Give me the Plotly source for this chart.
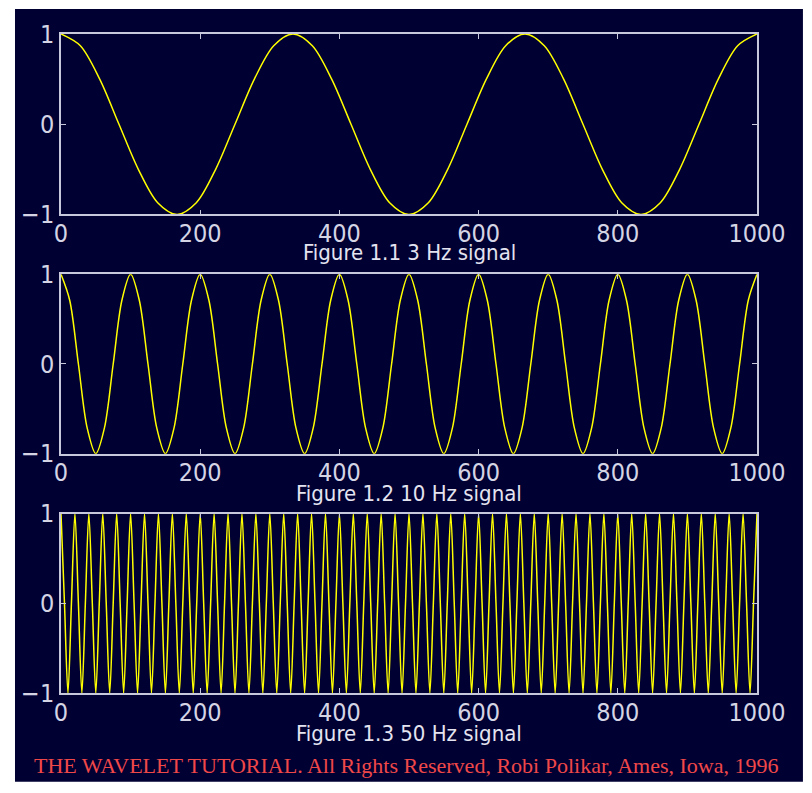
import plotly.graph_objects as go
from plotly.subplots import make_subplots

# key points
x_3hz = [0, 27.8, 55.6, 83.3, 111.1, 138.9, 166.7, 194.4, 222.2, 250, 277.8, 305.6,
         333.3, 361.1, 388.9, 416.7, 444.4, 472.2, 500, 527.8, 555.6, 583.3, 611.1, 638.9,
         666.7, 694.4, 722.2, 750, 777.8, 805.6, 833.3, 861.1, 888.9, 916.7, 944.4, 972.2,
         1000]
y_3hz = [1, 0.87, 0.5, 0, -0.5, -0.87, -1, -0.87, -0.5, 0, 0.5, 0.87,
         1, 0.87, 0.5, 0, -0.5, -0.87, -1, -0.87, -0.5, 0, 0.5, 0.87,
         1, 0.87, 0.5, 0, -0.5, -0.87, -1, -0.87, -0.5, 0, 0.5, 0.87,
         1]

x_10hz = [i * 12.5 for i in range(81)]
y_10hz = [1, 0.71, 0, -0.71, -1, -0.71, 0, 0.71, 1, 0.71, 0, -0.71, -1, -0.71, 0, 0.71,
          1, 0.71, 0, -0.71, -1, -0.71, 0, 0.71, 1, 0.71, 0, -0.71, -1, -0.71, 0, 0.71,
          1, 0.71, 0, -0.71, -1, -0.71, 0, 0.71, 1, 0.71, 0, -0.71, -1, -0.71, 0, 0.71,
          1, 0.71, 0, -0.71, -1, -0.71, 0, 0.71, 1, 0.71, 0, -0.71, -1, -0.71, 0, 0.71,
          1, 0.71, 0, -0.71, -1, -0.71, 0, 0.71, 1, 0.71, 0, -0.71, -1, -0.71, 0, 0.71,
          1]

# 50 Hz: peaks, zero crossings and troughs
x_50hz = list(range(0, 1001, 5))
y_50hz = [1, 0, -1, 0, 1, 0, -1, 0, 1, 0, -1, 0, 1, 0, -1, 0, 1, 0, -1, 0,
          1, 0, -1, 0, 1, 0, -1, 0, 1, 0, -1, 0, 1, 0, -1, 0, 1, 0, -1, 0,
          1, 0, -1, 0, 1, 0, -1, 0, 1, 0, -1, 0, 1, 0, -1, 0, 1, 0, -1, 0,
          1, 0, -1, 0, 1, 0, -1, 0, 1, 0, -1, 0, 1, 0, -1, 0, 1, 0, -1, 0,
          1, 0, -1, 0, 1, 0, -1, 0, 1, 0, -1, 0, 1, 0, -1, 0, 1, 0, -1, 0,
          1, 0, -1, 0, 1, 0, -1, 0, 1, 0, -1, 0, 1, 0, -1, 0, 1, 0, -1, 0,
          1, 0, -1, 0, 1, 0, -1, 0, 1, 0, -1, 0, 1, 0, -1, 0, 1, 0, -1, 0,
          1, 0, -1, 0, 1, 0, -1, 0, 1, 0, -1, 0, 1, 0, -1, 0, 1, 0, -1, 0,
          1, 0, -1, 0, 1, 0, -1, 0, 1, 0, -1, 0, 1, 0, -1, 0, 1, 0, -1, 0,
          1, 0, -1, 0, 1, 0, -1, 0, 1, 0, -1, 0, 1, 0, -1, 0, 1, 0, -1, 0,
          1]

titles = ["Figure 1.1 3 Hz signal", "Figure 1.2 10 Hz signal", "Figure 1.3 50 Hz signal"]
x_ticks = [0, 200, 400, 600, 800, 1000]
y_ticks = [-1, 0, 1]
footer = "THE WAVELET TUTORIAL. All Rights Reserved, Robi Polikar, Ames, Iowa, 1996"

NAVY = "#000033"
AXIS = "#c8c8dc"
FONT = "DejaVu Sans Condensed, Liberation Sans, sans-serif"

fig = make_subplots(rows=3, cols=1)
series = [(x_3hz, y_3hz), (x_10hz, y_10hz), (x_50hz, y_50hz)]
for i, (xs, ys) in enumerate(series):
    fig.add_trace(go.Scatter(x=xs, y=ys, mode="lines",
                             line=dict(color="#ffff00", width=1.5, shape="spline", smoothing=0.9),
                             showlegend=False, hoverinfo="skip"),
                  row=i + 1, col=1)

# panel positions in paper coords
domains = [[0.7262, 1.0], [0.3631, 0.6354], [0.0, 0.2723]]
title_y = [0.668, 0.303, -0.061]

for i in range(3):
    fig.update_xaxes(range=[0, 1000], tickvals=x_ticks, ticks="inside", ticklen=5,
                     tickcolor=AXIS, showline=True, linecolor=AXIS, linewidth=1.5,
                     mirror="ticks", showgrid=False, zeroline=False,
                     tickfont=dict(family=FONT, size=25, color="#d4d4e4"),
                     ticklabelstandoff=-4, row=i + 1, col=1)
    fig.update_yaxes(range=[-1, 1], tickvals=y_ticks, ticktext=["\u22121", "0", "1"],
                     ticks="inside", ticklen=5, tickcolor=AXIS, showline=True,
                     linecolor=AXIS, linewidth=1.5, mirror="ticks", showgrid=False,
                     zeroline=False, domain=domains[i],
                     tickfont=dict(family=FONT, size=25, color="#d4d4e4"),
                     ticklabelstandoff=0, row=i + 1, col=1)
    fig.add_annotation(text=titles[i], x=0.5, y=title_y[i], xref="paper", yref="paper",
                       showarrow=False, xanchor="center", yanchor="middle",
                       font=dict(family=FONT, size=22, color="#e4e4f0"))

fig.add_annotation(text=footer, x=0.4964, y=-0.1104, xref="paper", yref="paper",
                   showarrow=False, xanchor="center", yanchor="middle",
                   font=dict(family="Liberation Serif, Times New Roman, serif", size=22,
                             color="#f04848"))

fig.add_shape(type="rect", xref="paper", yref="paper", x0=-0.0661, x1=1.066,
              y0=-0.1346, y1=1.0378, fillcolor=NAVY, line=dict(width=0), layer="below")

# page has an 8px body margin, so the figure is nudged up/left
fig.update_layout(width=812, height=793, paper_bgcolor="white", plot_bgcolor=NAVY,
                  margin=dict(l=53, r=63, t=24, b=108))

fig.write_html("out.html")
